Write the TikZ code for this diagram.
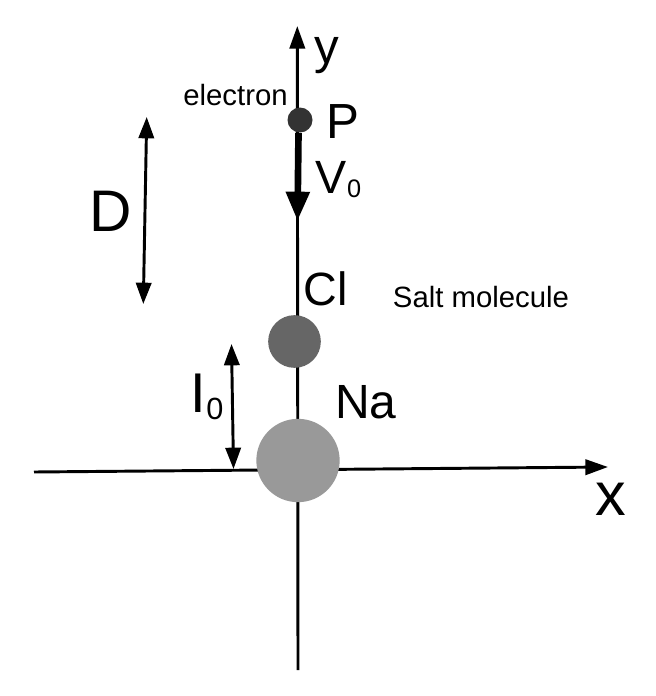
\documentclass[tikz,border=0pt]{standalone}
\usepackage{fontspec}
\setmainfont{Liberation Sans}
\usetikzlibrary{arrows.meta}
\tikzset{
 px/.style={x=0.75pt,y=-0.75pt},
 axisline/.style={line width=2.2pt,-{Stealth[length=17pt,width=11.5pt,inset=0pt]}},
 dimline/.style={line width=2.2pt,{Stealth[length=16pt,width=11.5pt,inset=0pt]}-{Stealth[length=16pt,width=11.5pt,inset=0pt]}},
 lbl/.style={inner sep=0pt,text=black},
}
\newcommand{\subz}[1]{{\fontsize{#1}{#1}\selectfont 0}}
\begin{document}
\begin{tikzpicture}[px]
\useasboundingbox (0,0) rectangle (656,696);
\fill[white] (0,0) rectangle (656,696);
\coordinate (yb) at (298,670);
\coordinate (yt) at (297.3,26);
\coordinate (xl) at (34,472);
\coordinate (xr) at (608,467);
\coordinate (v0) at (298.5,133);
\coordinate (v1) at (297.5,221);
\coordinate (d0) at (146.7,117);
\coordinate (d1) at (143.3,304);
\coordinate (l0) at (231.5,344);
\coordinate (l1) at (233.5,469);
\draw[axisline] (yb) -- (yt);
\draw[axisline] (xl) -- (xr);
\draw[line width=5pt,-{Stealth[length=22pt,width=17pt,inset=0pt]}] (v0) -- (v1);
\draw[dimline] (d0) -- (d1);
\draw[dimline] (l0) -- (l1);
\node[circle,fill=black!80,minimum size=18.75pt,inner sep=0pt] (P) at (300,120) {};
\node[circle,fill=black!60,minimum size=39.5pt,inner sep=0pt] (Cl) at (294.5,341.5) {};
\node[circle,fill=black!40,minimum size=62.5pt,inner sep=0pt] (Na) at (298,460.5) {};
\node[lbl,font=\fontsize{37pt}{37pt}\selectfont] (ylab) at (327,56) {y};
\node[lbl,font=\fontsize{22pt}{22pt}\selectfont] (elab) at (235.5,95) {electron};
\node[lbl,font=\fontsize{37pt}{37pt}\selectfont] (Plab) at (342.5,122) {P};
\node[lbl,font=\fontsize{35pt}{35pt}\selectfont] (V) at (338.5,180) {V\raisebox{-3pt}{\subz{19pt}}};
\node[lbl,font=\fontsize{44pt}{44pt}\selectfont] (D) at (110.5,211) {D};
\node[lbl,font=\fontsize{35pt}{35pt}\selectfont] (ClT) at (326,289) {Cl};
\node[lbl,font=\fontsize{22pt}{22pt}\selectfont] (S) at (481,297) {Salt molecule};
\node[lbl,font=\fontsize{36pt}{36pt}\selectfont] (NaT) at (366,402) {Na};
\node[lbl,font=\fontsize{42pt}{42pt}\selectfont] (I) at (207,397) {I\raisebox{-5pt}{\subz{23pt}}};
\node[lbl,font=\fontsize{46pt}{46pt}\selectfont] (x) at (611,499) {x};
\end{tikzpicture}
\end{document}
